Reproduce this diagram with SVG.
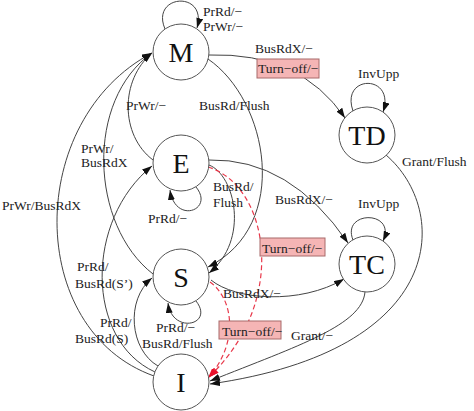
<svg xmlns="http://www.w3.org/2000/svg" width="474" height="411" viewBox="0 0 474 411">
<defs>
<marker id="ah" markerUnits="userSpaceOnUse" markerWidth="10" markerHeight="7" refX="10" refY="3.5" orient="auto"><path d="M0,0 L10,3.5 L0,7 z" fill="#111"/></marker>
<marker id="ahr" markerUnits="userSpaceOnUse" markerWidth="10" markerHeight="7" refX="10" refY="3.5" orient="auto"><path d="M0,0 L10,3.5 L0,7 z" fill="#e8102a"/></marker>
<style>
.n{fill:#fff;stroke:#555;stroke-width:1}
.nt{font-family:"Liberation Serif",serif;font-size:28px;text-anchor:middle;fill:#111}
.e{fill:none;stroke:#444;stroke-width:1;marker-end:url(#ah)}
.d{fill:none;stroke:#e8384a;stroke-width:1.2;stroke-dasharray:5,3;marker-end:url(#ahr)}
.l{font-family:"Liberation Serif",serif;font-size:13.5px;fill:#222}
.b{fill:#f5b5b5;stroke:#a86a6a;stroke-width:1}
</style>
</defs>
<rect width="474" height="411" fill="#fff"/>
<g id="connectors">
<path class="e" d="M165,29 C150,-6 208,-10 197,28"/>
<path class="e" d="M209,55 Q300,52 345,118"/>
<path class="e" d="M208,59 C268,100 292,225 208,267"/>
<path class="e" d="M209,165 C235,175 250,240 209,273"/>
<path class="e" d="M209,160 Q290,158 348,243"/>
<path class="d" d="M208,167 C268,185 290,300 209,377"/>
<path class="d" d="M210,282 C235,300 238,345 208,378"/>
<path class="e" d="M211,280 C235,300 300,305 344,279"/>
<path class="e" d="M365,292 C362,325 300,345 210,381"/>
<path class="e" d="M386,155 C450,210 450,350 210,384"/>
<path class="e" d="M353,111 C340,74 396,74 383,112"/>
<path class="e" d="M353,240 C341,210 397,210 383,241"/>
<path class="e" d="M196,187 C215,210 175,225 170,190"/>
<path class="e" d="M196,301 C215,325 172,335 168,303"/>
<path class="e" d="M153,160 C120,135 120,80 152,53"/>
<path class="e" d="M153,274 C90,225 85,100 152,53"/>
<path class="e" d="M154,376 C25,330 25,120 152,53"/>
<path class="e" d="M155,372 C85,340 85,220 152,166"/>
<path class="e" d="M158,366 C130,350 125,300 152,278"/>
</g>
<g id="labels">
<text class="l" x="203" y="16">PrRd/−</text>
<text class="l" x="203" y="31">PrWr/−</text>
<text class="l" x="255" y="53">BusRdX/−</text>
<rect class="b" x="257" y="59" width="62" height="19"/>
<text class="l" x="258" y="73">Turn−off/−</text>
<text class="l" x="358" y="78">InvUpp</text>
<text class="l" x="126" y="110">PrWr/−</text>
<text class="l" x="199" y="110">BusRd/Flush</text>
<text class="l" x="81" y="153">PrWr/</text>
<text class="l" x="81" y="167">BusRdX</text>
<text class="l" x="2" y="210">PrWr/BusRdX</text>
<text class="l" x="402" y="166">Grant/Flush</text>
<text class="l" x="213" y="191">BusRd/</text>
<text class="l" x="213" y="207">Flush</text>
<text class="l" x="148" y="223">PrRd/−</text>
<text class="l" x="275" y="204">BusRdX/−</text>
<text class="l" x="358" y="208">InvUpp</text>
<rect class="b" x="260" y="238" width="65" height="18"/>
<text class="l" x="262" y="253">Turn−off/−</text>
<text class="l" x="77" y="271">PrRd/</text>
<text class="l" x="75" y="288">BusRd(S’)</text>
<text class="l" x="223" y="298">BusRdX/−</text>
<text class="l" x="100" y="327">PrRd/</text>
<text class="l" x="75" y="343">BusRd(S)</text>
<rect class="b" x="219" y="321" width="62" height="18"/>
<text class="l" x="222" y="336">Turn−off/−</text>
<text class="l" x="291" y="340">Grant/−</text>
<text class="l" x="156" y="332">PrRd/−</text>
<text class="l" x="142" y="348">BusRd/Flush</text>
</g>
<g id="node-M"><circle class="n" cx="181" cy="52" r="28"/><text class="nt" x="181" y="62">M</text></g>
<g id="node-E"><circle class="n" cx="181" cy="163" r="28"/><text class="nt" x="181" y="173">E</text></g>
<g id="node-S"><circle class="n" cx="181" cy="277" r="28"/><text class="nt" x="181" y="287">S</text></g>
<g id="node-I"><circle class="n" cx="181" cy="382" r="28"/><text class="nt" x="181" y="392">I</text></g>
<g id="node-TD"><circle class="n" cx="367" cy="135" r="28"/><text class="nt" x="367" y="145">TD</text></g>
<g id="node-TC"><circle class="n" cx="367" cy="264" r="28"/><text class="nt" x="367" y="274">TC</text></g>
</svg>
